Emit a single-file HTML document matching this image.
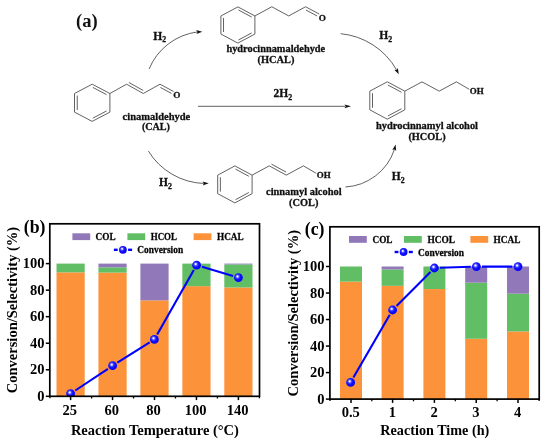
<!DOCTYPE html>
<html><head><meta charset="utf-8"><title>Figure</title>
<style>html,body{margin:0;padding:0;background:#fff}body{width:550px;height:445px;overflow:hidden}svg{display:block}.t{font-family:"Liberation Serif","Noto Serif CJK SC",serif;stroke-linejoin:round}.s{stroke:#111;stroke-width:0.3px}.k{stroke:#000;stroke-width:0.25px}</style>
</head><body>
<svg width="550" height="445" viewBox="0 0 550 445">
<defs>
<radialGradient id="ball" cx="0.42" cy="0.40" r="0.62" fx="0.39" fy="0.37">
<stop offset="0" stop-color="#ffffff"/>
<stop offset="0.1" stop-color="#f0f0ff"/>
<stop offset="0.3" stop-color="#5050ff"/>
<stop offset="0.55" stop-color="#1010ff"/>
<stop offset="1" stop-color="#0000f6"/>
</radialGradient>
</defs>
<rect width="550" height="445" fill="#fff"/>
<text class="t " x="76.00" y="26.50" font-size="18" font-weight="bold" textLength="21.60" lengthAdjust="spacingAndGlyphs" fill="#111">(a)</text>
<polygon points="92.20,84.20 109.90,93.50 109.90,112.10 92.20,121.40 74.50,112.10 74.50,93.50" fill="none" stroke="#505050" stroke-width="0.9" stroke-linejoin="round"/>
<line x1="92.80" y1="87.40" x2="106.56" y2="94.63" stroke="#505050" stroke-width="0.9" />
<line x1="106.56" y1="110.97" x2="92.80" y2="118.20" stroke="#505050" stroke-width="0.9" />
<line x1="77.24" y1="110.03" x2="77.24" y2="95.57" stroke="#505050" stroke-width="0.9" />
<line x1="109.90" y1="93.50" x2="126.60" y2="84.20" stroke="#505050" stroke-width="0.9" />
<line x1="126.60" y1="84.20" x2="143.30" y2="93.50" stroke="#505050" stroke-width="0.9" />
<line x1="143.30" y1="93.50" x2="160.00" y2="84.20" stroke="#505050" stroke-width="0.9" />
<line x1="128.87" y1="82.49" x2="143.23" y2="90.48" stroke="#505050" stroke-width="0.9" />
<line x1="160.00" y1="84.20" x2="173.60" y2="91.50" stroke="#505050" stroke-width="0.9" />
<line x1="160.36" y1="87.45" x2="171.51" y2="93.44" stroke="#505050" stroke-width="0.9" />
<text class="t" x="176.80" y="98.30" font-size="9.2" font-weight="bold" text-anchor="middle" fill="#111" stroke="#111" stroke-width="0.3">O</text>
<text class="t s" x="122.60" y="119.60" font-size="10.8" font-weight="bold" textLength="67.70" lengthAdjust="spacingAndGlyphs" fill="#111">cinamaldehyde</text>
<text class="t s" x="141.90" y="130.10" font-size="10.8" font-weight="bold" textLength="28.10" lengthAdjust="spacingAndGlyphs" fill="#111">(CAL)</text>
<polygon points="237.90,6.90 254.90,15.95 254.90,34.05 237.90,43.10 220.90,34.05 220.90,15.95" fill="none" stroke="#505050" stroke-width="0.9" stroke-linejoin="round"/>
<line x1="238.47" y1="10.01" x2="251.69" y2="17.05" stroke="#505050" stroke-width="0.9" />
<line x1="251.69" y1="32.95" x2="238.47" y2="39.99" stroke="#505050" stroke-width="0.9" />
<line x1="223.53" y1="32.04" x2="223.53" y2="17.96" stroke="#505050" stroke-width="0.9" />
<line x1="254.90" y1="15.95" x2="271.80" y2="6.75" stroke="#505050" stroke-width="0.9" />
<line x1="271.80" y1="6.75" x2="288.70" y2="15.95" stroke="#505050" stroke-width="0.9" />
<line x1="288.70" y1="15.95" x2="305.60" y2="6.75" stroke="#505050" stroke-width="0.9" />
<line x1="305.60" y1="6.75" x2="319.20" y2="14.05" stroke="#505050" stroke-width="0.9" />
<line x1="305.96" y1="10.00" x2="317.11" y2="15.99" stroke="#505050" stroke-width="0.9" />
<text class="t" x="322.40" y="20.85" font-size="9.2" font-weight="bold" text-anchor="middle" fill="#111" stroke="#111" stroke-width="0.3">O</text>
<text class="t s" x="226.40" y="52.20" font-size="10.8" font-weight="bold" textLength="98.80" lengthAdjust="spacingAndGlyphs" fill="#111">hydrocinnamaldehyde</text>
<text class="t s" x="257.60" y="63.20" font-size="10.8" font-weight="bold" textLength="36.80" lengthAdjust="spacingAndGlyphs" fill="#111">(HCAL)</text>
<polygon points="387.30,81.80 404.80,91.15 404.80,109.85 387.30,119.20 369.80,109.85 369.80,91.15" fill="none" stroke="#505050" stroke-width="0.9" stroke-linejoin="round"/>
<line x1="387.89" y1="85.01" x2="401.50" y2="92.28" stroke="#505050" stroke-width="0.9" />
<line x1="401.50" y1="108.72" x2="387.89" y2="115.99" stroke="#505050" stroke-width="0.9" />
<line x1="372.51" y1="107.77" x2="372.51" y2="93.23" stroke="#505050" stroke-width="0.9" />
<line x1="404.80" y1="91.15" x2="422.00" y2="81.85" stroke="#505050" stroke-width="0.9" />
<line x1="422.00" y1="81.85" x2="439.20" y2="91.15" stroke="#505050" stroke-width="0.9" />
<line x1="439.20" y1="91.15" x2="456.40" y2="81.85" stroke="#505050" stroke-width="0.9" />
<line x1="456.40" y1="81.85" x2="469.30" y2="89.35" stroke="#505050" stroke-width="0.9" />
<text class="t s" x="469.80" y="94.25" font-size="8.5" font-weight="bold" textLength="13.90" lengthAdjust="spacingAndGlyphs" fill="#111">OH</text>
<text class="t s" x="376.00" y="128.80" font-size="10.8" font-weight="bold" textLength="102.00" lengthAdjust="spacingAndGlyphs" fill="#111">hydrocinnamyl alcohol</text>
<text class="t s" x="408.40" y="139.90" font-size="10.8" font-weight="bold" textLength="37.20" lengthAdjust="spacingAndGlyphs" fill="#111">(HCOL)</text>
<polygon points="234.90,165.90 252.10,175.15 252.10,193.65 234.90,202.90 217.70,193.65 217.70,175.15" fill="none" stroke="#505050" stroke-width="0.9" stroke-linejoin="round"/>
<line x1="235.48" y1="169.08" x2="248.85" y2="176.27" stroke="#505050" stroke-width="0.9" />
<line x1="248.85" y1="192.53" x2="235.48" y2="199.72" stroke="#505050" stroke-width="0.9" />
<line x1="220.37" y1="191.59" x2="220.37" y2="177.21" stroke="#505050" stroke-width="0.9" />
<line x1="252.10" y1="175.15" x2="269.20" y2="165.85" stroke="#505050" stroke-width="0.9" />
<line x1="269.20" y1="165.85" x2="286.30" y2="175.15" stroke="#505050" stroke-width="0.9" />
<line x1="286.30" y1="175.15" x2="303.40" y2="165.85" stroke="#505050" stroke-width="0.9" />
<line x1="271.47" y1="164.12" x2="286.17" y2="172.12" stroke="#505050" stroke-width="0.9" />
<line x1="303.40" y1="165.85" x2="316.30" y2="173.35" stroke="#505050" stroke-width="0.9" />
<text class="t s" x="316.80" y="178.25" font-size="8.5" font-weight="bold" textLength="13.90" lengthAdjust="spacingAndGlyphs" fill="#111">OH</text>
<text class="t s" x="266.00" y="195.30" font-size="10.8" font-weight="bold" textLength="75.60" lengthAdjust="spacingAndGlyphs" fill="#111">cinnamyl alcohol</text>
<text class="t s" x="289.00" y="206.40" font-size="10.8" font-weight="bold" textLength="29.40" lengthAdjust="spacingAndGlyphs" fill="#111">(COL)</text>
<path d="M149.10,69.00 A60.87,60.87 0 0 1 197.31,31.94" fill="none" stroke="#505050" stroke-width="0.9"/>
<polygon points="202.30,31.70 196.40,33.99 197.51,31.93 196.21,29.99" fill="#111"/>
<path d="M340.70,33.70 A72.37,72.37 0 0 1 396.53,69.80" fill="none" stroke="#505050" stroke-width="0.9"/>
<polygon points="398.70,74.30 394.29,69.76 396.62,69.98 397.90,68.03" fill="#111"/>
<path d="M148.40,151.10 A68.22,68.22 0 0 0 203.70,183.47" fill="none" stroke="#505050" stroke-width="0.9"/>
<polygon points="208.70,183.30 202.77,185.50 203.90,183.46 202.63,181.51" fill="#111"/>
<path d="M345.40,187.00 A55.15,55.15 0 0 0 394.45,149.47" fill="none" stroke="#505050" stroke-width="0.9"/>
<polygon points="395.60,144.60 396.17,150.90 394.50,149.27 392.28,149.98" fill="#111"/>
<line x1="198.00" y1="106.30" x2="345.00" y2="106.30" stroke="#505050" stroke-width="0.9" />
<polygon points="351,106.3 344.5,104.4 345.7,106.3 344.5,108.2" fill="#111"/>
<text class="t s" x="153.20" y="39.60" font-size="11.5" font-weight="bold" fill="#111">H<tspan font-size="7.8" dy="2.6">2</tspan></text>
<text class="t s" x="379.20" y="39.10" font-size="11.5" font-weight="bold" fill="#111">H<tspan font-size="7.8" dy="2.6">2</tspan></text>
<text class="t s" x="159.00" y="186.30" font-size="11.5" font-weight="bold" fill="#111">H<tspan font-size="7.8" dy="2.6">2</tspan></text>
<text class="t s" x="391.70" y="180.10" font-size="11.5" font-weight="bold" fill="#111">H<tspan font-size="7.8" dy="2.6">2</tspan></text>
<text class="t s" x="273.50" y="97.30" font-size="11.5" font-weight="bold" fill="#111">2H<tspan font-size="7.8" dy="2.6">2</tspan></text>
<rect x="56.50" y="272.36" width="28.20" height="123.94" fill="#FC923A"/>
<rect x="56.50" y="263.60" width="28.20" height="8.76" fill="#62BE65"/>
<rect x="98.45" y="272.62" width="28.20" height="123.68" fill="#FC923A"/>
<rect x="98.45" y="267.32" width="28.20" height="5.31" fill="#62BE65"/>
<rect x="98.45" y="263.60" width="28.20" height="3.72" fill="#9178B9"/>
<rect x="140.40" y="300.36" width="28.20" height="95.94" fill="#FC923A"/>
<rect x="140.40" y="263.60" width="28.20" height="36.76" fill="#9178B9"/>
<rect x="182.35" y="286.16" width="28.20" height="110.14" fill="#FC923A"/>
<rect x="182.35" y="263.60" width="28.20" height="22.56" fill="#62BE65"/>
<rect x="224.30" y="287.49" width="28.20" height="108.81" fill="#FC923A"/>
<rect x="224.30" y="264.40" width="28.20" height="23.09" fill="#62BE65"/>
<rect x="224.30" y="263.60" width="28.20" height="0.80" fill="#9178B9"/>
<clipPath id="clipb"><rect x="49.80" y="223.80" width="209.70" height="172.50"/></clipPath>
<g clip-path="url(#clipb)">
<line x1="75.26" y1="390.50" x2="107.94" y2="368.80" stroke="#0000FF" stroke-width="2.1" />
<line x1="117.34" y1="362.72" x2="149.66" y2="342.38" stroke="#0000FF" stroke-width="2.1" />
<line x1="157.17" y1="334.53" x2="193.83" y2="270.07" stroke="#0000FF" stroke-width="2.1" />
<line x1="201.97" y1="266.79" x2="233.03" y2="276.01" stroke="#0000FF" stroke-width="2.1" />
<circle cx="70.60" cy="393.60" r="4.4" fill="url(#ball)"/>
<circle cx="112.60" cy="365.70" r="4.4" fill="url(#ball)"/>
<circle cx="154.40" cy="339.40" r="4.4" fill="url(#ball)"/>
<circle cx="196.60" cy="265.20" r="4.4" fill="url(#ball)"/>
<circle cx="238.40" cy="277.60" r="4.4" fill="url(#ball)"/>
</g>
<rect x="49.80" y="223.80" width="209.70" height="172.50" fill="none" stroke="#000" stroke-width="1.7"/>
<line x1="45.80" y1="396.30" x2="49.80" y2="396.30" stroke="#000" stroke-width="1.5" />
<text class="t" x="44.40" y="401.00" font-size="14.5" font-weight="bold" text-anchor="end" fill="#000" >0</text>
<line x1="45.80" y1="369.76" x2="49.80" y2="369.76" stroke="#000" stroke-width="1.5" />
<text class="t" x="44.40" y="374.46" font-size="14.5" font-weight="bold" text-anchor="end" fill="#000" >20</text>
<line x1="45.80" y1="343.22" x2="49.80" y2="343.22" stroke="#000" stroke-width="1.5" />
<text class="t" x="44.40" y="347.92" font-size="14.5" font-weight="bold" text-anchor="end" fill="#000" >40</text>
<line x1="45.80" y1="316.68" x2="49.80" y2="316.68" stroke="#000" stroke-width="1.5" />
<text class="t" x="44.40" y="321.38" font-size="14.5" font-weight="bold" text-anchor="end" fill="#000" >60</text>
<line x1="45.80" y1="290.14" x2="49.80" y2="290.14" stroke="#000" stroke-width="1.5" />
<text class="t" x="44.40" y="294.84" font-size="14.5" font-weight="bold" text-anchor="end" fill="#000" >80</text>
<line x1="45.80" y1="263.60" x2="49.80" y2="263.60" stroke="#000" stroke-width="1.5" />
<text class="t" x="44.40" y="268.30" font-size="14.5" font-weight="bold" text-anchor="end" fill="#000" >100</text>
<line x1="49.90" y1="396.30" x2="49.90" y2="398.30" stroke="#000" stroke-width="1.3" />
<line x1="259.40" y1="396.30" x2="259.40" y2="398.30" stroke="#000" stroke-width="1.3" />
<line x1="70.60" y1="396.30" x2="70.60" y2="400.10" stroke="#000" stroke-width="1.5" />
<text class="t" x="69.70" y="415.10" font-size="14.5" font-weight="bold" text-anchor="middle" fill="#000" >25</text>
<line x1="91.57" y1="396.30" x2="91.57" y2="398.50" stroke="#000" stroke-width="1.3" />
<line x1="112.55" y1="396.30" x2="112.55" y2="400.10" stroke="#000" stroke-width="1.5" />
<text class="t" x="111.65" y="415.10" font-size="14.5" font-weight="bold" text-anchor="middle" fill="#000" >60</text>
<line x1="133.53" y1="396.30" x2="133.53" y2="398.50" stroke="#000" stroke-width="1.3" />
<line x1="154.50" y1="396.30" x2="154.50" y2="400.10" stroke="#000" stroke-width="1.5" />
<text class="t" x="153.60" y="415.10" font-size="14.5" font-weight="bold" text-anchor="middle" fill="#000" >80</text>
<line x1="175.47" y1="396.30" x2="175.47" y2="398.50" stroke="#000" stroke-width="1.3" />
<line x1="196.45" y1="396.30" x2="196.45" y2="400.10" stroke="#000" stroke-width="1.5" />
<text class="t" x="195.55" y="415.10" font-size="14.5" font-weight="bold" text-anchor="middle" fill="#000" >100</text>
<line x1="217.43" y1="396.30" x2="217.43" y2="398.50" stroke="#000" stroke-width="1.3" />
<line x1="238.40" y1="396.30" x2="238.40" y2="400.10" stroke="#000" stroke-width="1.5" />
<text class="t" x="237.50" y="415.10" font-size="14.5" font-weight="bold" text-anchor="middle" fill="#000" >140</text>
<text class="t " x="70.90" y="434.80" font-size="14.5" font-weight="bold" textLength="168.00" lengthAdjust="spacingAndGlyphs" fill="#000">Reaction Temperature (°C)</text>
<text class="t " x="23.80" y="233.20" font-size="18" font-weight="bold" textLength="21.70" lengthAdjust="spacingAndGlyphs" fill="#000">(b)</text>
<text class="t" transform="translate(17.2,393.2) rotate(-90)" font-size="14.5" font-weight="bold" textLength="166.4" lengthAdjust="spacingAndGlyphs" fill="#000">Conversion/Selectivity (%)</text>
<rect x="72.40" y="233.30" width="17.8" height="6.8" fill="#9178B9"/>
<text class="t s" x="95.60" y="239.70" font-size="10.2" font-weight="bold" textLength="20.00" lengthAdjust="spacingAndGlyphs" fill="#000">COL</text>
<rect x="127.40" y="233.30" width="17.8" height="6.8" fill="#62BE65"/>
<text class="t s" x="150.70" y="239.70" font-size="10.2" font-weight="bold" textLength="26.30" lengthAdjust="spacingAndGlyphs" fill="#000">HCOL</text>
<rect x="193.60" y="233.30" width="17.8" height="6.8" fill="#FC923A"/>
<text class="t s" x="217.00" y="239.70" font-size="10.2" font-weight="bold" textLength="26.60" lengthAdjust="spacingAndGlyphs" fill="#000">HCAL</text>
<line x1="113.90" y1="249.80" x2="117.70" y2="249.80" stroke="#0000FF" stroke-width="2.4" />
<line x1="128.10" y1="249.80" x2="132.10" y2="249.80" stroke="#0000FF" stroke-width="2.4" />
<circle cx="122.90" cy="249.80" r="3.9" fill="url(#ball)"/>
<text class="t s" x="137.30" y="252.90" font-size="10.2" font-weight="bold" textLength="45.80" lengthAdjust="spacingAndGlyphs" fill="#000">Conversion</text>
<rect x="340.00" y="281.62" width="22.00" height="117.48" fill="#FC923A"/>
<rect x="340.00" y="266.50" width="22.00" height="15.12" fill="#62BE65"/>
<rect x="381.60" y="285.86" width="22.00" height="113.24" fill="#FC923A"/>
<rect x="381.60" y="269.42" width="22.00" height="16.44" fill="#62BE65"/>
<rect x="381.60" y="266.50" width="22.00" height="2.92" fill="#9178B9"/>
<rect x="423.40" y="289.04" width="22.00" height="110.06" fill="#FC923A"/>
<rect x="423.40" y="266.50" width="22.00" height="22.54" fill="#62BE65"/>
<rect x="465.20" y="338.77" width="22.00" height="60.33" fill="#FC923A"/>
<rect x="465.20" y="282.68" width="22.00" height="56.09" fill="#62BE65"/>
<rect x="465.20" y="266.50" width="22.00" height="16.18" fill="#9178B9"/>
<rect x="507.00" y="331.47" width="22.00" height="67.63" fill="#FC923A"/>
<rect x="507.00" y="293.68" width="22.00" height="37.79" fill="#62BE65"/>
<rect x="507.00" y="266.50" width="22.00" height="27.18" fill="#9178B9"/>
<clipPath id="clipc"><rect x="329.90" y="226.80" width="209.30" height="172.30"/></clipPath>
<g clip-path="url(#clipc)">
<line x1="353.41" y1="377.56" x2="389.79" y2="314.84" stroke="#0000FF" stroke-width="2.1" />
<line x1="396.55" y1="306.03" x2="430.45" y2="271.97" stroke="#0000FF" stroke-width="2.1" />
<line x1="440.00" y1="267.81" x2="470.80" y2="266.79" stroke="#0000FF" stroke-width="2.1" />
<line x1="482.00" y1="266.60" x2="512.40" y2="266.60" stroke="#0000FF" stroke-width="2.1" />
<circle cx="350.60" cy="382.40" r="4.4" fill="url(#ball)"/>
<circle cx="392.60" cy="310.00" r="4.4" fill="url(#ball)"/>
<circle cx="434.40" cy="268.00" r="4.4" fill="url(#ball)"/>
<circle cx="476.40" cy="266.60" r="4.4" fill="url(#ball)"/>
<circle cx="518.00" cy="266.60" r="4.4" fill="url(#ball)"/>
</g>
<rect x="329.90" y="226.80" width="209.30" height="172.30" fill="none" stroke="#000" stroke-width="1.7"/>
<line x1="325.90" y1="399.10" x2="329.90" y2="399.10" stroke="#000" stroke-width="1.5" />
<text class="t" x="324.50" y="403.80" font-size="14.5" font-weight="bold" text-anchor="end" fill="#000" >0</text>
<line x1="325.90" y1="372.58" x2="329.90" y2="372.58" stroke="#000" stroke-width="1.5" />
<text class="t" x="324.50" y="377.28" font-size="14.5" font-weight="bold" text-anchor="end" fill="#000" >20</text>
<line x1="325.90" y1="346.06" x2="329.90" y2="346.06" stroke="#000" stroke-width="1.5" />
<text class="t" x="324.50" y="350.76" font-size="14.5" font-weight="bold" text-anchor="end" fill="#000" >40</text>
<line x1="325.90" y1="319.54" x2="329.90" y2="319.54" stroke="#000" stroke-width="1.5" />
<text class="t" x="324.50" y="324.24" font-size="14.5" font-weight="bold" text-anchor="end" fill="#000" >60</text>
<line x1="325.90" y1="293.02" x2="329.90" y2="293.02" stroke="#000" stroke-width="1.5" />
<text class="t" x="324.50" y="297.72" font-size="14.5" font-weight="bold" text-anchor="end" fill="#000" >80</text>
<line x1="325.90" y1="266.50" x2="329.90" y2="266.50" stroke="#000" stroke-width="1.5" />
<text class="t" x="324.50" y="271.20" font-size="14.5" font-weight="bold" text-anchor="end" fill="#000" >100</text>
<line x1="330.00" y1="399.10" x2="330.00" y2="401.10" stroke="#000" stroke-width="1.3" />
<line x1="539.10" y1="399.10" x2="539.10" y2="401.10" stroke="#000" stroke-width="1.3" />
<line x1="351.00" y1="399.10" x2="351.00" y2="402.90" stroke="#000" stroke-width="1.5" />
<text class="t" x="350.70" y="417.40" font-size="14.5" font-weight="bold" text-anchor="middle" fill="#000" >0.5</text>
<line x1="371.80" y1="399.10" x2="371.80" y2="401.30" stroke="#000" stroke-width="1.3" />
<line x1="392.60" y1="399.10" x2="392.60" y2="402.90" stroke="#000" stroke-width="1.5" />
<text class="t" x="392.30" y="417.40" font-size="14.5" font-weight="bold" text-anchor="middle" fill="#000" >1</text>
<line x1="413.50" y1="399.10" x2="413.50" y2="401.30" stroke="#000" stroke-width="1.3" />
<line x1="434.40" y1="399.10" x2="434.40" y2="402.90" stroke="#000" stroke-width="1.5" />
<text class="t" x="434.10" y="417.40" font-size="14.5" font-weight="bold" text-anchor="middle" fill="#000" >2</text>
<line x1="455.30" y1="399.10" x2="455.30" y2="401.30" stroke="#000" stroke-width="1.3" />
<line x1="476.20" y1="399.10" x2="476.20" y2="402.90" stroke="#000" stroke-width="1.5" />
<text class="t" x="475.90" y="417.40" font-size="14.5" font-weight="bold" text-anchor="middle" fill="#000" >3</text>
<line x1="497.10" y1="399.10" x2="497.10" y2="401.30" stroke="#000" stroke-width="1.3" />
<line x1="518.00" y1="399.10" x2="518.00" y2="402.90" stroke="#000" stroke-width="1.5" />
<text class="t" x="517.70" y="417.40" font-size="14.5" font-weight="bold" text-anchor="middle" fill="#000" >4</text>
<text class="t " x="380.30" y="435.20" font-size="14.5" font-weight="bold" textLength="109.00" lengthAdjust="spacingAndGlyphs" fill="#000">Reaction Time (h)</text>
<text class="t " x="304.80" y="235.20" font-size="18" font-weight="bold" textLength="19.70" lengthAdjust="spacingAndGlyphs" fill="#000">(c)</text>
<text class="t" transform="translate(297.5,396.4) rotate(-90)" font-size="14.5" font-weight="bold" textLength="166.4" lengthAdjust="spacingAndGlyphs" fill="#000">Conversion/Selectivity (%)</text>
<rect x="349.00" y="236.00" width="17.8" height="6.8" fill="#9178B9"/>
<text class="t s" x="372.50" y="242.60" font-size="10.2" font-weight="bold" textLength="20.00" lengthAdjust="spacingAndGlyphs" fill="#000">COL</text>
<rect x="404.00" y="236.00" width="17.8" height="6.8" fill="#62BE65"/>
<text class="t s" x="427.40" y="242.60" font-size="10.2" font-weight="bold" textLength="27.60" lengthAdjust="spacingAndGlyphs" fill="#000">HCOL</text>
<rect x="470.40" y="236.00" width="17.8" height="6.8" fill="#FC923A"/>
<text class="t s" x="493.60" y="242.60" font-size="10.2" font-weight="bold" textLength="26.80" lengthAdjust="spacingAndGlyphs" fill="#000">HCAL</text>
<line x1="394.60" y1="252.00" x2="398.40" y2="252.00" stroke="#0000FF" stroke-width="2.4" />
<line x1="408.80" y1="252.00" x2="412.80" y2="252.00" stroke="#0000FF" stroke-width="2.4" />
<circle cx="403.60" cy="252.00" r="3.9" fill="url(#ball)"/>
<text class="t s" x="418.00" y="255.80" font-size="10.2" font-weight="bold" textLength="46.00" lengthAdjust="spacingAndGlyphs" fill="#000">Conversion</text>
</svg>
</body></html>
